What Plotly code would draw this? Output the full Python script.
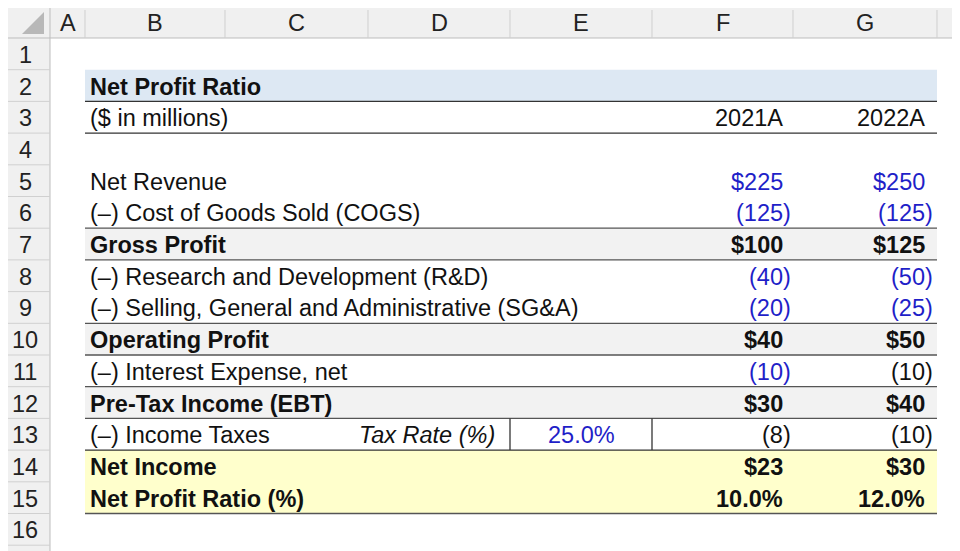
import plotly.graph_objects as go

# spreadsheet content
col_letters = ["A", "B", "C", "D", "E", "F", "G"]
col_edges = [50, 85, 225, 368, 510, 652, 793, 937]
row_numbers = list(range(1, 17))

labels = ["", "Net Profit Ratio", "($ in millions)", "", "Net Revenue",
          "(\u2013) Cost of Goods Sold (COGS)", "Gross Profit",
          "(\u2013) Research and Development (R&D)",
          "(\u2013) Selling, General and Administrative (SG&A)",
          "Operating Profit", "(\u2013) Interest Expense, net",
          "Pre-Tax Income (EBT)", "(\u2013) Income Taxes", "Net Income",
          "Net Profit Ratio (%)", ""]
bold_rows = [2, 7, 10, 12, 14, 15]
f_vals = ["", "", "2021A", "", "$225", "(125)", "$100", "(40)", "(20)", "$40",
          "(10)", "$30", "(8)", "$23", "10.0%", ""]
g_vals = ["", "", "2022A", "", "$250", "(125)", "$125", "(50)", "(25)", "$50",
          "(10)", "$40", "(10)", "$30", "12.0%", ""]
f_blue = [5, 6, 8, 9, 11]
g_blue = [5, 6, 8, 9]
tax_label = "Tax Rate (%)"
tax_rate = "25.0%"

BLUE = "#1f1fc8"
FONT = "Liberation Sans, Arial, sans-serif"
FS = 23.5
top, rh = 38, 31.7

def ry(n):
    return top + (n - 1) * rh

shapes = []
ann = []

# header band and row-number column
shapes.append(dict(type="rect", x0=0, x1=970, y0=0, y1=top, fillcolor="#f0f0f0", line_width=0, layer="below"))
shapes.append(dict(type="rect", x0=0, x1=50, y0=top, y1=560, fillcolor="#f0f0f0", line_width=0, layer="below"))
shapes.append(dict(type="line", x0=0, x1=970, y0=top, y1=top, line=dict(color="#bdbdbd", width=1)))
shapes.append(dict(type="line", x0=50, x1=50, y0=0, y1=560, line=dict(color="#bdbdbd", width=1)))
shapes.append(dict(type="path", path="M 44 12 L 44 34 L 22 34 Z", fillcolor="#b8b8b8", line_width=0))
for x in col_edges[1:]:
    shapes.append(dict(type="line", x0=x, x1=x, y0=10, y1=top, line=dict(color="#cfcfcf", width=1)))
for i, c in enumerate(col_letters):
    ann.append(dict(x=(col_edges[i] + col_edges[i + 1]) / 2, y=top / 2 + 4, text=c, showarrow=False,
                    font=dict(size=FS, color="#222")))
for n in row_numbers:
    shapes.append(dict(type="line", x0=0, x1=50, y0=ry(n + 1), y1=ry(n + 1), line=dict(color="#d0d0d0", width=1)))
    ann.append(dict(x=25, y=ry(n) + rh / 2 + 1, text=str(n), showarrow=False, font=dict(size=FS, color="#222")))

# fills
def fill(n0, n1, color):
    shapes.append(dict(type="rect", x0=85, x1=937, y0=ry(n0), y1=ry(n1 + 1), fillcolor=color, line_width=0, layer="below"))

fill(2, 2, "#dde8f3")
for n in [7, 10, 12]:
    fill(n, n, "#f2f2f2")
fill(14, 15, "#ffffcc")

def hline(y, color="#333", w=1.3):
    shapes.append(dict(type="line", x0=85, x1=937, y0=y, y1=y, line=dict(color=color, width=w)))

hline(ry(3))
hline(ry(4))
for n in [7, 10, 12]:
    hline(ry(n), "#555")
    hline(ry(n + 1), "#555")
hline(ry(14), "#333")
hline(ry(16), "#555")
for x in [510, 652]:
    shapes.append(dict(type="line", x0=x, x1=x, y0=ry(13), y1=ry(14), line=dict(color="#333", width=1.3)))

for i, lab in enumerate(labels):
    n = i + 1
    yc = ry(n) + rh / 2 + 1
    b = n in bold_rows
    if lab:
        ann.append(dict(x=88, y=yc, text=f"<b>{lab}</b>" if b else lab, xanchor="left", showarrow=False,
                        font=dict(size=FS, color="#111")))
    for vals, blues, xr in [(f_vals, f_blue, 793), (g_vals, g_blue, 935)]:
        v = vals[i]
        if not v:
            continue
        x = xr if v.endswith(")") else xr - 8
        ann.append(dict(x=x, y=yc, text=f"<b>{v}</b>" if b else v, xanchor="right", showarrow=False,
                        font=dict(size=FS, color=BLUE if n in blues else "#111")))

yc13 = ry(13) + rh / 2 + 1
ann.append(dict(x=497, y=yc13, text=f"<i>{tax_label}</i>", xanchor="right", showarrow=False,
                font=dict(size=FS, color="#111")))
ann.append(dict(x=581, y=yc13, text=tax_rate, showarrow=False, font=dict(size=FS, color=BLUE)))

fig = go.Figure()
fig.update_layout(
    width=960, height=551, margin=dict(l=0, r=0, t=0, b=0),
    paper_bgcolor="white", plot_bgcolor="white",
    # page body has an 8px margin, so offset the ranges to keep page pixels aligned
    xaxis=dict(range=[8, 968], visible=False, fixedrange=True),
    yaxis=dict(range=[559, 8], visible=False, fixedrange=True),
    shapes=shapes, annotations=ann, font=dict(family=FONT),
)
fig.write_html("out.html")
